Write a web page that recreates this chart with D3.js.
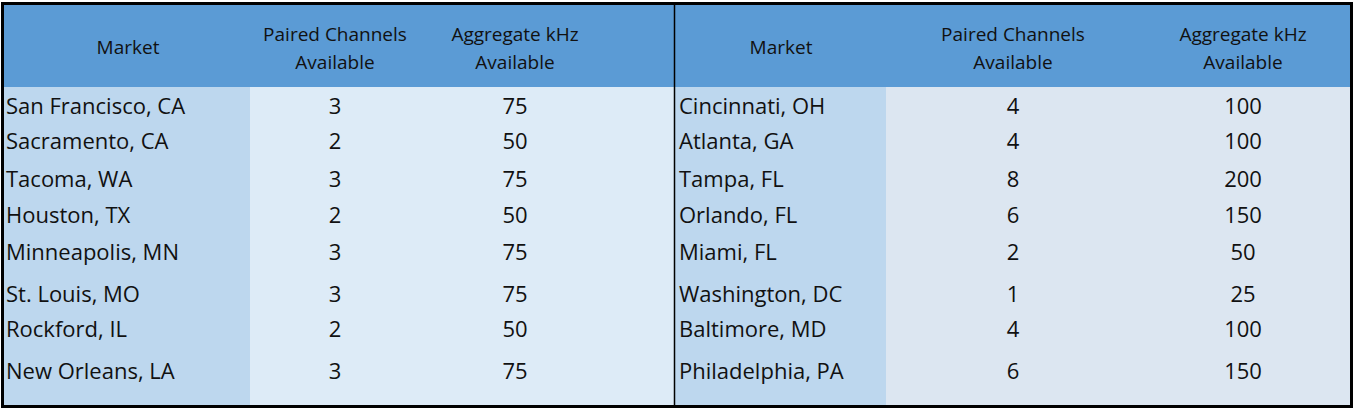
<!DOCTYPE html><html><head><script src="https://cdn.jsdelivr.net/npm/d3@7"></script>
<style>body{margin:0;background:#fff}</style></head><body><svg id="c" width="1355" height="413"></svg><script>
const headers=[["Market"],["Paired Channels","Available"],["Aggregate kHz","Available"]];
const leftMarkets=["San Francisco, CA","Sacramento, CA","Tacoma, WA","Houston, TX","Minneapolis, MN","St. Louis, MO","Rockford, IL","New Orleans, LA"];
const leftChannels=[3,2,3,2,3,3,2,3];
const leftKHz=[75,50,75,50,75,75,50,75];
const rightMarkets=["Cincinnati, OH","Atlanta, GA","Tampa, FL","Orlando, FL","Miami, FL","Washington, DC","Baltimore, MD","Philadelphia, PA"];
const rightChannels=[4,4,8,6,2,1,4,6];
const rightKHz=[100,100,200,150,50,25,100,150];
const rowY=[106,141,179,215,252,294,329,371];
const svg=d3.select("#c");
const font="'Open Sans', sans-serif";
function panel(x0,xm,x1,centers,marketX,markets,ch,kh,bodyFill){
  svg.append("rect").attr("x",x0).attr("y",87).attr("width",xm-x0).attr("height",320).attr("fill","#BDD7EE");
  svg.append("rect").attr("x",xm).attr("y",87).attr("width",x1-xm).attr("height",320).attr("fill",bodyFill);
  svg.append("rect").attr("x",x0).attr("y",5).attr("width",x1-x0).attr("height",82).attr("fill","#5B9BD5");
  headers.forEach((h,i)=>{
    const t=svg.append("text").attr("x",centers[i]).attr("text-anchor","middle").attr("font-family",font).attr("font-size",19).attr("fill","#111");
    if(h.length===1) t.append("tspan").attr("x",centers[i]).attr("y",54).text(h[0]);
    else h.forEach((s,j)=>t.append("tspan").attr("x",centers[i]).attr("y",41+j*28).text(s));
  });
  const g=svg.append("g").attr("font-family",font).attr("font-size",22).attr("fill","#111");
  markets.forEach((m,i)=>{
    g.append("text").attr("x",marketX).attr("y",rowY[i]+8).text(m);
    g.append("text").attr("x",centers[1]).attr("y",rowY[i]+8).attr("text-anchor","middle").text(ch[i]);
    g.append("text").attr("x",centers[2]).attr("y",rowY[i]+8).attr("text-anchor","middle").text(kh[i]);
  });
}
panel(3,250,674,[128,335,515],6,leftMarkets,leftChannels,leftKHz,"#DDEBF7");
panel(674,886,1350,[781,1013,1243],679,rightMarkets,rightChannels,rightKHz,"#DCE6F1");
svg.append("line").attr("x1",674.5).attr("x2",674.5).attr("y1",5).attr("y2",407).attr("stroke","#000").attr("stroke-width",1.5);
svg.append("rect").attr("x",2.5).attr("y",3.5).attr("width",1349).attr("height",403).attr("fill","none").attr("stroke","#000").attr("stroke-width",3);
</script></body></html>
